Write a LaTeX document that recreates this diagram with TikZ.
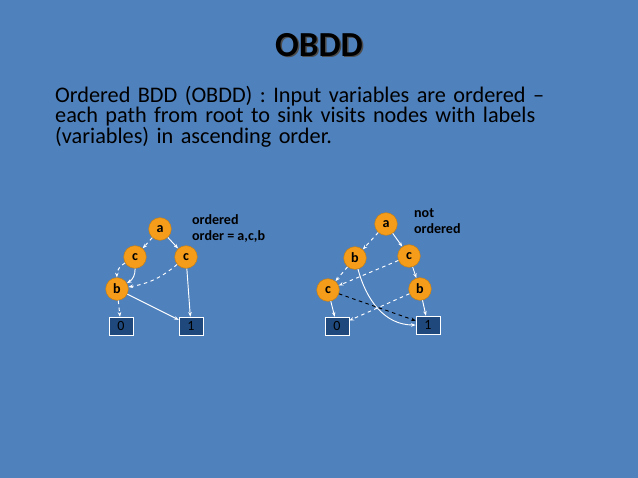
\documentclass[tikz,border=0pt]{standalone}
\usepackage{fontspec}
\setmainfont{Carlito}
\usetikzlibrary{arrows.meta}
\definecolor{slidebg}{HTML}{4F81BD}
\definecolor{vnode}{HTML}{F59D1A}
\definecolor{tnode}{HTML}{1F497D}
\begin{document}
\begin{tikzpicture}[x=0.03cm, y=-0.03cm,
    var/.style={circle, fill=vnode, draw=vnode!80!black, minimum size=0.68cm, inner sep=0pt, font=\bfseries\large},
    term/.style={rectangle, fill=tnode, draw=white!80, minimum width=0.72cm, minimum height=0.54cm, inner sep=0pt, font=\large},
    hi/.style={->, >={Stealth[length=4pt]}, white!90, thick},
    lo/.style={hi, dashed},
    note/.style={anchor=north west, align=left, font=\bfseries\large, text=black}
]
    \fill[slidebg] (0,0) rectangle (638,478);
    \node[font=\bfseries\fontsize{30}{32}\selectfont, text=black!70] at (320.5,46.5) {OBDD};
    \node[font=\bfseries\fontsize{30}{32}\selectfont, text=black] (title) at (319,45) {OBDD};
    \node[anchor=north west, inner sep=0pt, text width=15.84cm, text=black, font=\fontsize{19}{15.8}\selectfont] (body) at (55,86)
        {\hangindent=0.69cm\hangafter=1 Ordered BDD (OBDD) : Input variables are ordered – each path from root to sink visits nodes with labels (variables) in ascending order.};

    % ordered
    \node[var] (a1) at (160,229) {a};
    \node[var] (c1) at (135,257) {c};
    \node[var] (c2) at (186,257) {c};
    \node[var] (b1) at (117,289) {b};
    \node[term] (z1) at (121,326) {0};
    \node[term] (o1) at (191,326) {1};
    \node[note] (n1) at (188,210) {ordered\\order = a,c,b};
    \draw[lo] (a1) -- (c1);
    \draw[hi] (a1) -- (c2);
    \draw[lo] (c1) to[bend right=30] (b1);
    \draw[hi] (c1) to[bend left=30] (b1);
    \draw[lo] (c2) to[bend left=15] (b1);
    \draw[hi] (c2) -- (o1);
    \draw[lo] (b1) -- (z1);
    \draw[hi] (b1) -- (o1);

    % not ordered
    \node[var] (a2) at (386,224) {a};
    \node[var] (b2) at (355,258) {b};
    \node[var] (c3) at (409,256) {c};
    \node[var] (c4) at (328,290) {c};
    \node[var] (b3) at (420,289) {b};
    \node[term] (z2) at (337,326) {0};
    \node[term] (o2) at (428,325) {1};
    \node[note] (n2) at (410,204) {not\\ordered};
    \draw[lo] (a2) -- (b2);
    \draw[hi] (a2) -- (c3);
    \draw[lo] (b2) -- (c4);
    \draw[hi] (b2) to[out=-75, in=180] (o2.west);
    \draw[lo] (c3) -- (c4);
    \draw[hi] (c3) -- (b3);
    \draw[hi] (c4) -- (z2);
    \draw[lo, black] (c4) -- (o2);
    \draw[lo] (b3) -- (z2);
    \draw[hi] (b3) -- (o2);
\end{tikzpicture}
\end{document}
